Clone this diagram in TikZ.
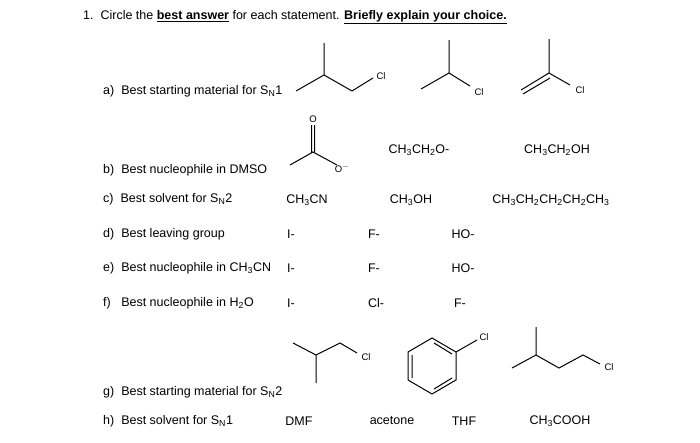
\documentclass[tikz,border=0pt]{standalone}
\usepackage{fontspec}
\setmainfont{Liberation Sans}
\begin{document}
\begin{tikzpicture}[x=1pt,y=-1pt,
  lbl/.style={anchor=west,inner sep=0pt,font=\fontsize{12.5}{14}\selectfont},
  ct/.style={inner sep=0pt,font=\fontsize{12.5}{14}\selectfont},
  atm/.style={inner sep=0.5pt,font=\fontsize{9.5}{10}\selectfont},
  bd/.style={line width=1pt}]
\useasboundingbox[fill=white] (0,0) rectangle (700,442);
\node[lbl] (t) at (83,17) {1.\ \ Circle the \textbf{\underline{best answer}} for each statement. \textbf{\underline{Briefly explain your choice.}}};
\node[lbl] (la) at (103,91) {a)\ \ Best starting material for S\textsubscript{N}1};
\node[lbl] (lb) at (103,170) {b)\ \ Best nucleophile in DMSO};
\node[lbl] (lc) at (103,199) {c)\ \ Best solvent for S\textsubscript{N}2};
\node[lbl] (ld) at (103,234) {d)\ \ Best leaving group};
\node[lbl] (le) at (103,268) {e)\ \ Best nucleophile in CH\textsubscript{3}CN};
\node[lbl] (lf) at (103,303) {f)\ \ \ Best nucleophile in H\textsubscript{2}O};
\node[lbl] (lg) at (103,392) {g)\ \ Best starting material for S\textsubscript{N}2};
\node[lbl] (lh) at (103,421) {h)\ \ Best solvent for S\textsubscript{N}1};
% a molecules
\draw[bd] (296,91)--(324,75)--(352,91)--(373,78) (324,75)--(324,43);
\node[atm] (c1) at (381,76) {Cl};
\draw[bd] (421,89)--(449,73)--(470,86) (449,73)--(449,40);
\node[atm] (c2) at (479,92) {Cl};
\draw[bd] (521,90)--(549,73)--(570,85) (549,73)--(549,39);
\draw[bd] (523,94)--(550,78);
\node[atm] (c3) at (580,90) {Cl};
% b
\draw[bd] (290,165)--(313,152)--(337,165) (311.5,152)--(311.5,125) (314.5,152)--(314.5,125);
\node[atm] (o1) at (313,119) {O};
\node[atm] (o2) at (342,168) {O$^{-}$};
\node[ct] (b2) at (419,150) {CH\textsubscript{3}CH\textsubscript{2}O-};
\node[ct] (b3) at (557,150) {CH\textsubscript{3}CH\textsubscript{2}OH};
% c
\node[ct] (c1t) at (307,200) {CH\textsubscript{3}CN};
\node[ct] (c2t) at (411,200) {CH\textsubscript{3}OH};
\node[ct] (c3t) at (551,200) {CH\textsubscript{3}CH\textsubscript{2}CH\textsubscript{2}CH\textsubscript{2}CH\textsubscript{3}};
% d e f
\node[ct] (d1) at (291,234) {I-}; \node[ct] (d2) at (374,234) {F-}; \node[ct] (d3) at (463,234) {HO-};
\node[ct] (e1) at (291,268) {I-}; \node[ct] (e2) at (374,268) {F-}; \node[ct] (e3) at (463,268) {HO-};
\node[ct] (f1) at (291,303) {I-}; \node[ct] (f2) at (376,303) {Cl-}; \node[ct] (f3) at (460,303) {F-};
% g molecules
\draw[bd] (293,343)--(316,355)--(340,343)--(357,353) (316,355)--(316,383);
\node[atm] (g1) at (366,357) {Cl};
\draw[bd] (432,338)--(456,352)--(456,380)--(432,394)--(408,380)--(408,352)--cycle;
\draw[bd] (434,343)--(452,354) (452,378)--(434,389) (412,378)--(412,355);
\draw[bd] (456,352)--(477,340);
\node[atm] (g2) at (484,337) {Cl};
\draw[bd] (512,368)--(536,355)--(559,368)--(583,355)--(600,364) (536,355)--(536,327);
\node[atm] (g3) at (609,367) {Cl};
% h
\node[ct] (h1) at (299,421) {DMF};
\node[ct] (h2) at (392,421) {acetone};
\node[ct] (h3) at (464,421) {THF};
\node[ct] (h4) at (560,421) {CH\textsubscript{3}COOH};
\end{tikzpicture}
\end{document}
